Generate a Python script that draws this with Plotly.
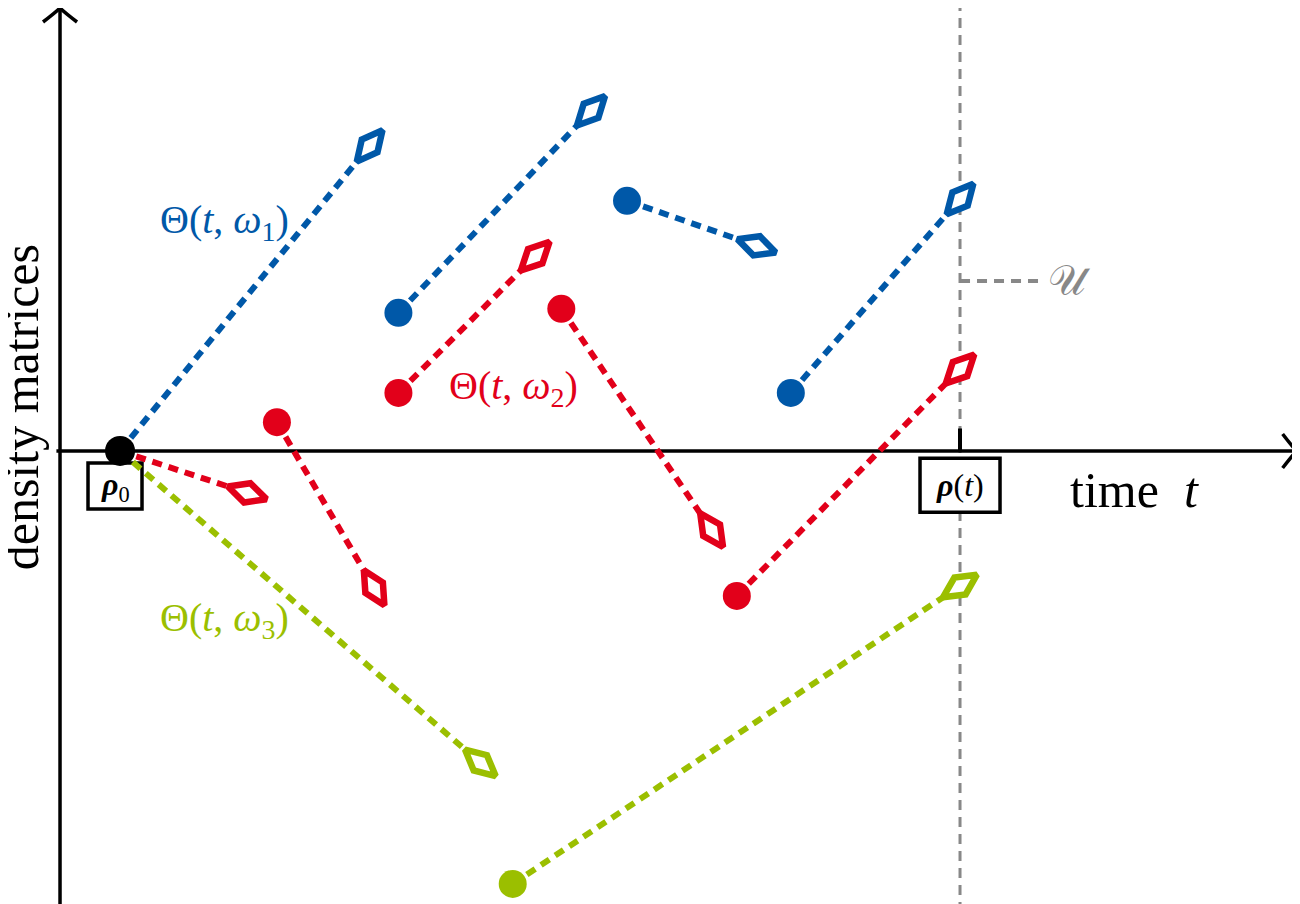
import plotly.graph_objects as go

# colours of the three trajectories
BLUE = "#0058a8"
RED = "#e2001a"
GREEN = "#9bbf00"
GRAY = "#888888"
FONT = "Liberation Serif"

t0 = 0.667    # time of rho_0
t_end = 10.0  # time t of rho(t)

# each segment: [start, end] (circle -> diamond)
blue_t = [[t0, 3.44], [3.76, 5.90], [6.30, 7.74], [8.12, 10.0]]
blue_y = [[0.0, 6.78], [3.07, 7.56], [5.56, 4.56], [1.29, 5.60]]

red_t = [[t0, 2.08], [2.41, 3.49], [3.76, 5.28], [5.57, 7.24], [7.52, 10.0]]
red_y = [[0.0, -0.93], [0.64, -3.04], [1.29, 4.33], [3.16, -1.76], [-3.22, 1.82]]

green_t = [[t0, 4.67], [5.03, 10.0]]
green_y = [[0.0, -6.93], [-9.62, -3.0]]

u_level = 3.78

fig = go.Figure()


def add_segments(ts, ys, color):
    # dashed jumps ending in a diamond pointing along the jump
    for t, y in zip(ts, ys):
        fig.add_trace(go.Scatter(
            x=t, y=y,
            mode="lines+markers",
            line=dict(color=color, width=6, dash="10px,7px"),
            marker=dict(
                symbol="diamond-tall",
                size=[0, 29],
                color="white",
                opacity=1,
                angleref="previous",
                line=dict(color=color, width=[0, 6.5]),
            ),
            showlegend=False,
            hoverinfo="skip",
        ))
    # starting points of each jump
    fig.add_trace(go.Scatter(
        x=[t[0] for t in ts], y=[y[0] for y in ys],
        mode="markers",
        marker=dict(color=color, size=28, opacity=1),
        showlegend=False, hoverinfo="skip",
    ))


add_segments(blue_t, blue_y, BLUE)
add_segments(red_t, red_y, RED)
add_segments(green_t, green_y, GREEN)

# rho_0
fig.add_trace(go.Scatter(
    x=[t0], y=[0], mode="markers",
    marker=dict(color="black", size=30),
    showlegend=False, hoverinfo="skip",
))

# the page puts the plot 8px in from the corner, so the ranges start 8px in
x_min = -0.578
x_max = x_min + 1300 / 90
y_max = 9.844
y_min = y_max - 904 / 45

# boxes around rho_0 and rho(t)
fig.add_shape(type="rect", xref="x", yref="y", layer="below",
              xsizemode="pixel", ysizemode="pixel",
              xanchor=0.611, yanchor=-0.78,
              x0=-27, x1=27, y0=-23, y1=23,
              line=dict(color="black", width=3.5), fillcolor="white")
fig.add_shape(type="rect", xref="x", yref="y", layer="below",
              xsizemode="pixel", ysizemode="pixel",
              xanchor=t_end, yanchor=-0.76,
              x0=-40, x1=40, y0=-27, y1=27,
              line=dict(color="black", width=3.5), fillcolor="white")

# gray dashed vertical at time t and the U branch
fig.add_shape(type="line", xref="x", yref="paper", layer="below",
              x0=t_end, x1=t_end, y0=0, y1=1,
              line=dict(color=GRAY, width=3, dash="10px,7px"))
fig.add_shape(type="line", xref="x", yref="y", layer="below",
              x0=t_end, x1=10.94, y0=u_level, y1=u_level,
              line=dict(color=GRAY, width=4, dash="10px,7px"))

# axes
fig.add_shape(type="line", xref="x", yref="y", layer="below",
              x0=-0.04, x1=13.74, y0=0, y1=0,
              line=dict(color="black", width=3.5))
fig.add_shape(type="line", xref="x", yref="y", layer="below",
              x0=0, x1=0, y0=y_min, y1=y_max,
              line=dict(color="black", width=3.5))
fig.add_shape(type="path", xref="x", yref="y", layer="below",
              xsizemode="pixel", ysizemode="pixel",
              xanchor=13.74, yanchor=0,
              path="M-14,17 Q-4,4 0,0 Q-4,-4 -14,-17",
              line=dict(color="black", width=3.5))
fig.add_shape(type="path", xref="x", yref="y", layer="below",
              xsizemode="pixel", ysizemode="pixel",
              xanchor=0, yanchor=y_max,
              path="M-17,-14 Q-4,-4 0,0 Q4,-4 17,-14",
              line=dict(color="black", width=3.5))
# tick at time t
fig.add_shape(type="line", xref="x", yref="y", layer="below",
              x0=t_end, x1=t_end, y0=0, y1=0.5,
              line=dict(color="black", width=4))

annotations = [
    dict(x=1.833, y=5.09, text="Θ(<i>t</i>, <i>ω</i><sub>1</sub>)",
         font=dict(color=BLUE, size=40)),
    dict(x=5.04, y=1.40, text="Θ(<i>t</i>, <i>ω</i><sub>2</sub>)",
         font=dict(color=RED, size=40)),
    dict(x=1.833, y=-3.76, text="Θ(<i>t</i>, <i>ω</i><sub>3</sub>)",
         font=dict(color=GREEN, size=40)),
    dict(x=11.94, y=-0.87, text="time  <i>t</i>",
         font=dict(color="black", size=50)),
    dict(x=-0.44, y=0.98, text="density matrices", textangle=-90,
         font=dict(color="black", size=50)),
    dict(x=0.611, y=-0.78, text="<b><i>ρ</i></b><sub>0</sub>",
         font=dict(color="black", size=32)),
    dict(x=t_end, y=-0.76, text="<b><i>ρ</i></b>(<i>t</i>)",
         font=dict(color="black", size=32)),
    dict(x=11.22, y=u_level, text="𝒰",
         font=dict(color=GRAY, size=42)),
]
for a in annotations:
    a.update(xref="x", yref="y", showarrow=False)
    a["font"]["family"] = FONT

fig.update_layout(
    width=1300, height=904,
    margin=dict(l=0, r=0, t=0, b=0),
    paper_bgcolor="white", plot_bgcolor="white",
    xaxis=dict(range=[x_min, x_max], visible=False),
    yaxis=dict(range=[y_min, y_max], visible=False),
    annotations=annotations,
)

fig.write_html("out.html")
